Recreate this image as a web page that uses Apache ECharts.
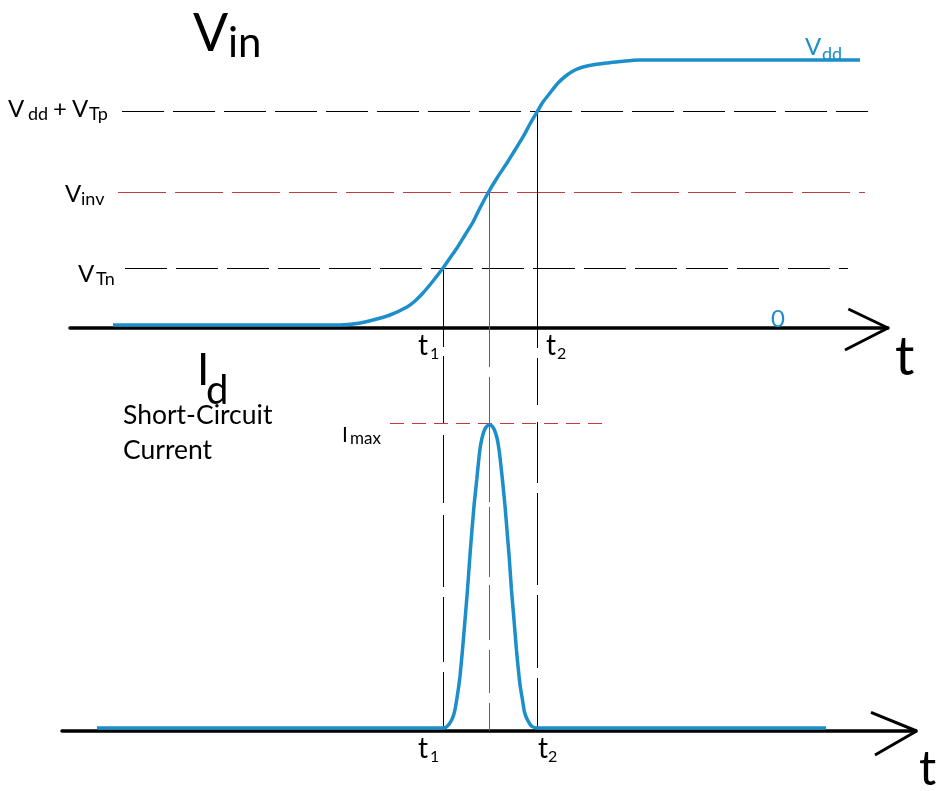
<!DOCTYPE html>
<html>
<head>
<meta charset="utf-8">
<script src="https://cdn.jsdelivr.net/npm/echarts@6/dist/echarts.min.js"></script>
<style>
html,body{margin:0;padding:0;background:#fff;}
#chart{width:947px;height:791px;}
</style>
</head>
<body>
<div id="chart"></div>
<script>
// ---------- data (time in arbitrary units, voltage normalised to Vdd = 1, current to Imax = 1) ----------
const vinTime  = [5.26, 20.0, 33.01, 35.09, 37.04, 39.12, 41.2, 42.18, 43.15, 44.38, 45.6, 46.45, 47.31, 48.29, 49.27, 50.12, 51.1, 52.2, 53.42, 54.4, 55.38, 56.23, 57.09, 57.82, 58.68, 59.66, 60.76, 61.74, 62.71, 64.18, 65.65, 67.24, 69.68, 96.58];
const vinValue = [0.011, 0.011, 0.0112, 0.0168, 0.0299, 0.0485, 0.0784, 0.1007, 0.1306, 0.1754, 0.2239, 0.2612, 0.2985, 0.347, 0.3955, 0.4478, 0.5037, 0.5597, 0.6157, 0.6642, 0.7127, 0.7612, 0.806, 0.8433, 0.8769, 0.9142, 0.944, 0.9627, 0.9739, 0.9832, 0.9888, 0.9944, 1.0, 1.0];

const idTime  = [3.3, 45.0, 45.66, 46.09, 46.66, 47.0, 47.27, 47.49, 47.68, 47.98, 48.29, 48.59, 48.9, 49.14, 49.39, 49.72, 49.94, 50.12, 50.37, 50.67, 50.98, 51.28,
                 51.59, 51.89, 52.2, 52.44, 52.63, 52.87, 53.18, 53.42, 53.67, 53.97, 54.28, 54.58, 54.89, 55.07, 55.32, 55.56, 55.93, 56.48, 57.15, 92.42];
const idValue = [0.01, 0.01, 0.01, 0.0147, 0.0359, 0.0621, 0.1013, 0.1405, 0.1797, 0.2647, 0.3627, 0.4608, 0.5752, 0.6569, 0.7353, 0.8203, 0.8791, 0.9216, 0.9575, 0.9837, 0.9967, 1.0,
                 0.9967, 0.9837, 0.9575, 0.9216, 0.8791, 0.8203, 0.7353, 0.6569, 0.5752, 0.4608, 0.3627, 0.2647, 0.1797, 0.1405, 0.1013, 0.0621, 0.0359, 0.0147, 0.01, 0.01];

const levelNames  = ['Vdd + VTp', 'Vinv', 'VTn'];
const levelValues = [0.8078, 0.5056, 0.222];
const levelStart  = [6.36, 5.87, 6.72];
const levelEnd    = [97.55, 97.19, 95.1];

const t1 = 45.66, tInv = 51.284, t2 = 57.152;
const iMax = 1.0049, iMaxStart = 39.12, iMaxEnd = 65.16;

// ---------- styles ----------
const BLUE = '#1c8fca';
const RED = '#c0393d';
const FONT = 'Lato';

const topYMax = 1.2;
const botYMax = 403 / 306;

function seg(pts) { return pts.map(p => [p[0], p[1]]); }

function guide(name, grid, pts, color, width, type) {
  return {
    name: name, type: 'line', xAxisIndex: grid, yAxisIndex: grid,
    data: seg(pts), symbol: 'none', silent: true, clip: false, z: 1,
    lineStyle: { color: color, width: width, type: type || 'solid' },
    animation: false
  };
}

const series = [];
// top: Vin
series.push({
  name: 'Vin', type: 'line', xAxisIndex: 0, yAxisIndex: 0,
  data: vinTime.map((t, i) => [t, vinValue[i]]),
  symbol: 'none', smooth: 0.25, clip: false, z: 5,
  lineStyle: { color: BLUE, width: 3.5 }, animation: false
});
// horizontal levels
levelNames.forEach((n, i) => {
  series.push(guide(n, 0, [[levelStart[i], levelValues[i]], [levelEnd[i], levelValues[i]]],
    n === 'Vinv' ? RED : '#000', 1, n === 'Vinv' ? [48, 9] : [42, 9]));
});
// vertical guides, top panel
series.push(guide('t1 top', 0, [[t1, levelValues[2]], [t1, 0]], '#000', 1));
series.push(guide('tinv top', 0, [[tInv, levelValues[1]], [tInv, 0]], RED, 1));
series.push(guide('t2 top', 0, [[t2, levelValues[0]], [t2, 0]], '#000', 1));
// arrow head top
series.push(guide('arrow top', 0, [[95.15, 0.0709], [100, 0], [94.74, -0.0821]], '#000', 3));

// bottom: Id
series.push({
  name: 'Id', type: 'line', xAxisIndex: 1, yAxisIndex: 1,
  data: idTime.map((t, i) => [t, idValue[i]]),
  symbol: 'none', smooth: 0.2, clip: false, z: 5,
  lineStyle: { color: BLUE, width: 3.5 }, animation: false
});
series.push(guide('Imax', 1, [[iMaxStart, iMax], [iMaxEnd, iMax]], RED, 1, [14, 8]));
series.push(guide('t1 bottom', 1, [[t1, botYMax], [t1, 0]], '#000', 1, [19, 9, 67, 12, 68, 12, 72, 10, 65, 10, 80]));
series.push(guide('tinv bottom', 1, [[tInv, botYMax], [tInv, 0]], RED, 1, [39, 10, 125, 5, 70, 8, 55, 10, 43, 10, 60]));
series.push(guide('t2 bottom', 1, [[t2, botYMax], [t2, 0]], '#000', 1, [20, 10, 47, 17, 61, 10, 92, 10, 73, 10, 80]));
series.push(guide('arrow bottom', 1, [[97.92, 0.0611], [103.5, 0], [98.41, -0.0784]], '#000', 3));

// ---------- labels ----------
const C = 0.33; // baseline -> middle offset factor
function txt(x, baseline, size, text, color) {
  return {
    type: 'text', x: x, y: baseline - C * size, z: 20,
    style: { text: text, font: size + 'px ' + FONT, fill: color || '#000',
      textAlign: 'left', textVerticalAlign: 'middle', verticalAlign: 'middle' }
  };
}
const graphics = [
  txt(193, 51, 52, 'V'), txt(228, 57, 42, 'in'),
  txt(8, 117, 24, 'V'), txt(28, 120, 18, 'dd'), txt(53, 117, 24, '+'), txt(72, 117, 24, 'V'), txt(89, 120, 18, 'Tp'),
  txt(65, 202, 24, 'V'), txt(81, 205, 18, 'inv'),
  txt(78, 282, 24, 'V'), txt(96, 285, 18, 'Tn'),
  txt(805, 55, 24, 'V', BLUE), txt(822, 60, 18, 'dd', BLUE),
  txt(771, 327, 24, '0', BLUE),
  txt(895, 375, 54, 't'),
  txt(919, 785, 48, 't'),
  txt(418, 355, 28, 't'), txt(430, 359, 16, '1'),
  txt(546, 355, 28, 't'), txt(557, 359, 16, '2'),
  txt(418, 758, 28, 't'), txt(430, 762, 16, '1'),
  txt(538, 758, 28, 't'), txt(548, 762, 16, '2'),
  txt(342, 442, 21, 'I'), txt(350, 444, 17, 'max'),
  txt(197, 385, 44, 'I'), txt(206, 404, 40, 'd'),
  txt(123, 424, 26.5, 'Short-Circuit'),
  txt(123, 459, 26.5, 'Current')
];

const option = {
  backgroundColor: '#fff',
  animation: false,
  grid: [
    { left: 70, width: 818, top: 328 - topYMax * 268, height: topYMax * 268 },
    { left: 62, width: 854, top: 328, height: 403 }
  ],
  xAxis: [
    { type: 'value', gridIndex: 0, min: 0, max: 100,
      axisLine: { show: true, lineStyle: { color: '#000', width: 3.5 } },
      axisTick: { show: false }, axisLabel: { show: false }, splitLine: { show: false } },
    { type: 'value', gridIndex: 1, min: -8 / 8.18, max: 846 / 8.18,
      axisLine: { show: true, lineStyle: { color: '#000', width: 3.5 } },
      axisTick: { show: false }, axisLabel: { show: false }, splitLine: { show: false } }
  ],
  yAxis: [
    { type: 'value', gridIndex: 0, min: 0, max: topYMax, show: false, splitLine: { show: false } },
    { type: 'value', gridIndex: 1, min: 0, max: botYMax, show: false, splitLine: { show: false } }
  ],
  series: series,
  graphic: { elements: graphics }
};

const chart = echarts.init(document.getElementById('chart'), null, { renderer: 'canvas' });
chart.setOption(option);
</script>
</body>
</html>
